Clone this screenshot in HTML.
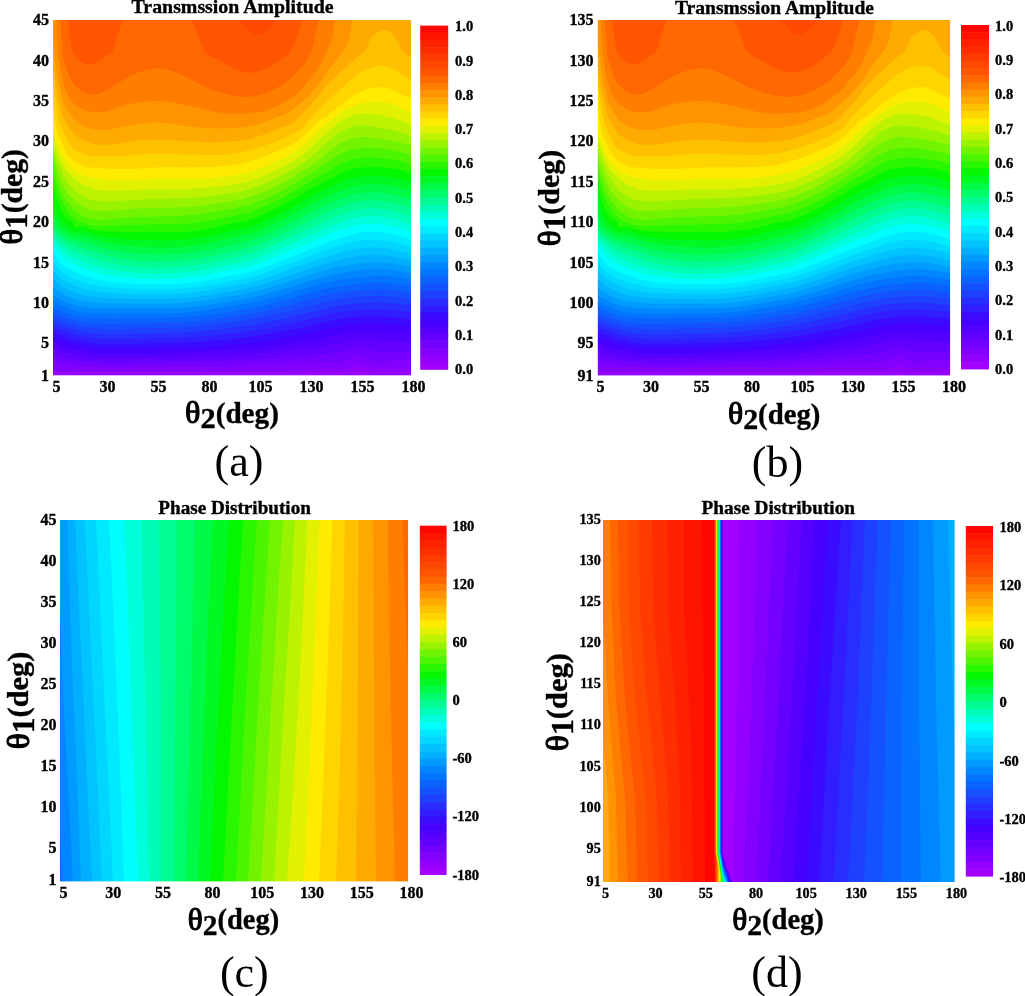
<!DOCTYPE html>
<html><head><meta charset="utf-8"><title>Transmission amplitude and phase distribution</title>
<style>
html,body{margin:0;padding:0;background:#fff;}
svg{display:block;}
text{font-family:"Liberation Serif","Times New Roman",Times,serif;fill:#000;}
text.b{stroke:#000;stroke-width:0.35px;}
</style></head><body>
<svg width="1025" height="996" viewBox="0 0 1025 996">
<rect width="1025" height="996" fill="#fff"/>
<defs><g id="fa"><rect x="51" y="18" width="362" height="359.3" fill="#a200ff"/>
<path fill="#9300ff" d="M51 18L413 18L413 377.3L364.7 377.3L364.7 375.3L362.4 373.4L360.4 372.3L358.4 372.2L356.4 373.3L354.9 375.3L354.8 377.3L51 377.3Z"/>
<path fill="#8300ff" d="M51 18L413 18L413 369L400.9 369L370.5 369.7L368.5 369.2L362.4 365.9L360.4 365.1L358.4 364.7L356.4 365L354.4 365.9L350.3 368.5L348.3 369.3L346.3 369.7L342.2 369.9L326 369.7L243.1 371.1L123.8 371.8L101.6 371.7L61.1 371.1L51 370.3Z"/>
<path fill="#7400ff" d="M51 18L413 18L413 360.3L400.9 360.2L378.6 361.4L372.6 361.3L368.5 360.4L361.7 357L358.4 356.1L356.4 356.3L354.4 356.9L350.3 359.1L346.3 360.7L342.2 361.4L338.2 361.7L320 362.3L247.2 365.5L202.7 366.5L144 367.1L107.6 367.2L91.4 366.7L65.2 365L59.1 364.3L53 363.1L51 363.1Z"/>
<path fill="#6400ff" d="M413 18L413 351.5L400.9 351.2L376.6 351.6L370.5 350.8L362.4 348.8L358.4 348.4L354.4 348.8L344.2 351.7L336.2 353.1L257.3 359.5L202.7 361.6L144 362.6L109.6 362.7L91.4 362L80.9 361.1L69.2 359.6L61.1 358.1L53 355.9L51 355.9L51 18Z"/>
<path fill="#5500ff" d="M413 18L413 342.6L400.9 342L380.6 341.6L364.5 340.2L356.4 340.2L350.3 340.9L330.9 344.8L315.9 347.2L255.3 354L202.7 356.8L146.1 358L109.6 358.2L99.5 358L91.4 357.4L81.3 356.1L71.2 354.3L63.1 352.3L53 349L51 349L51 18Z"/>
<path fill="#4600ff" d="M413 18L413 334L398.8 333.1L372.6 331.8L364.5 331.6L356.4 331.9L348.3 332.7L340.2 334.1L320 338.8L311.9 340.3L253.2 348.5L200.7 351.9L172.3 352.5L148.1 353.4L117.7 353.8L101.6 353.5L93.5 352.9L83.4 351.5L73.2 349.3L63.1 346.4L53 342.6L51 342.6L51 18Z"/>
<path fill="#3a0bff" d="M413 18L413 326.2L394.8 324.7L376.6 323.8L364.5 323.7L354.4 324.3L346.3 325.2L336.2 326.9L315.9 332L305.8 334.1L265.4 340.9L251.2 343L200.7 346.9L150.1 348.6L117.7 349.1L101.6 348.8L93.5 348.2L83.4 346.5L75.3 344.6L65.2 341.6L53 337L51 337L51 18Z"/>
<path fill="#311dff" d="M413 18L413 319L411 319L394.8 317.2L378.6 316.4L364.5 316.4L352.3 317.3L344.2 318.3L336.2 319.7L303.8 327.4L269.4 334L255.3 336.5L239.1 338.4L204.7 341.5L192.6 342.2L125.8 344.2L109.6 344.2L99.5 343.9L89.4 342.7L79.3 340.7L69.2 337.9L53 332L51 332L51 18Z"/>
<path fill="#272eff" d="M413 18L413 312.1L411 312.1L394.8 310.2L380.6 309.4L364.5 309.5L350.3 310.6L340.2 312.1L332.1 313.6L297.7 322L269.4 327.9L255.3 330.5L241.1 332.5L210.8 335.7L188.5 337.3L123.8 339.3L109.6 339.3L99.5 338.9L89.4 337.8L79.3 335.9L69.2 333L53 327.2L51 327.2L51 18Z"/>
<path fill="#1e40ff" d="M413 18L413 305.5L411 305.5L392.8 303.2L380.6 302.6L366.5 302.8L350.3 304L340.2 305.5L330.1 307.4L291.7 316.9L265.4 322.6L253.2 325L241.1 326.8L210.8 330.4L198.6 331.6L186.5 332.3L121.8 334.2L107.6 334.2L97.5 333.8L87.4 332.6L77.3 330.6L67.2 327.6L53 322.5L51 322.4L51 18Z"/>
<path fill="#1551ff" d="M413 18L413 299L411 299L392.8 296.6L380.6 295.9L364.5 296.3L348.3 297.8L338.2 299.3L326 301.8L289.6 311.1L253.2 319.2L243.1 320.8L210.8 325.1L196.6 326.6L184.5 327.4L117.7 329.1L105.6 329L95.5 328.6L85.4 327.5L77.3 325.9L67.2 323L53 317.6L51 317.6L51 18Z"/>
<path fill="#0b63ff" d="M413 18L413 292.6L411 292.6L392.8 290L380.6 289.3L364.5 289.9L348.3 291.4L336.2 293.3L324 295.8L289.6 305L259.3 312.3L251.2 313.9L208.7 320.1L194.6 321.6L182.5 322.5L113.7 323.9L101.6 323.8L91.4 323.3L83.4 322.4L75.3 320.7L65.2 317.5L53 312.7L51 312.7L51 18Z"/>
<path fill="#0274ff" d="M413 18L413 286.2L411 286.2L394.8 283.6L382.7 282.7L374.6 282.8L366.5 283.2L348.3 285L336.2 286.9L322 290L311.9 292.6L289.6 299L251.2 308.5L208.7 314.9L194.6 316.6L182.5 317.6L170.3 318L150.1 318L113.7 318.7L89.4 318.2L81.3 317.2L75.3 315.9L67.2 313.2L53 307.5L51 307.5L51 18Z"/>
<path fill="#0087ff" d="M413 18L413 279.8L411 279.8L394.8 277L386.7 276.3L380.6 276L366.5 276.5L348.3 278.4L334.1 280.9L320 284.2L309.9 287L287.6 293.7L251.2 303.1L208.7 309.9L194.6 311.6L182.5 312.7L168.3 313.2L150.1 313.1L113.7 313.6L95.5 313.3L87.4 312.9L81.3 312.1L73.2 310.1L59.1 304.8L53 301.6L51 301.6L51 18Z"/>
<path fill="#009bff" d="M413 18L413 273.3L411 273.3L392.8 270.2L380.6 269.2L366.5 269.6L352.3 271.1L338.2 273.6L322 277.5L309.9 280.9L281.5 289.7L259.3 295.8L251.2 297.8L243.1 299.4L206.7 305.2L192.6 307L180.4 308L166.3 308.4L115.7 308.6L97.5 308.2L87.4 307.5L79.3 306.2L71.2 303.8L61.1 299.7L57.1 297.6L53 294.8L51 294.8L51 18Z"/>
<path fill="#00afff" d="M413 18L413 266.7L411 266.7L392.8 263.4L380.6 262.2L368.5 262.3L354.4 263.8L340.2 266.5L324 270.6L309.9 274.8L275.1 286L261.3 290L251.2 292.6L241.1 294.6L206.7 300.3L192.6 302.1L178.4 303.3L162.2 303.7L119.8 303.6L101.6 303.1L89.4 302.2L79.3 300.3L71.2 297.8L65.2 295.3L61.1 293.2L57.1 290.6L53 287.3L51 287.3L51 18Z"/>
<path fill="#00c3ff" d="M413 18L413 260.2L411 260.2L390.8 256.2L380.6 255L374.6 254.8L368.5 255L356.4 256.3L342.2 259.2L324 264.2L307.8 269.3L267.4 282.9L251.2 287.5L241.1 289.5L206.7 295.5L190.5 297.5L176.4 298.6L156.2 299.1L121.8 298.6L103.6 297.9L89.4 296.4L79.3 294.2L73.2 292.1L69.2 290.4L65.2 288.4L61 286L57.1 283L53 279.3L51 279.3L51 18Z"/>
<path fill="#00d6ff" d="M413 18L413 253.5L411 253.5L390.8 248.9L380.6 247.6L370.5 247.3L364.5 247.7L358.4 248.5L344.2 251.5L328.1 256.3L305.8 263.8L266.4 277.8L253.2 281.9L243.1 284L206.7 290.6L190.5 292.7L174.4 293.9L152.1 294.3L125.8 293.7L105.6 292.6L91.4 290.7L85.4 289.4L79.3 287.6L74.8 286L69.2 283.5L65.2 281.2L60.2 277.8L57.1 275.2L53 271L51 271L51 18Z"/>
<path fill="#00eaff" d="M413 18L413 246.7L411 246.7L392.8 241.8L382.7 240.1L376.6 239.6L370.5 239.5L364.5 239.9L358.4 240.8L346.3 243.6L332.1 248.1L303.8 258.2L262.3 273.8L251.2 277.2L216.8 283.9L204.7 285.9L186.5 288.1L170.3 289.2L150.1 289.5L125.8 288.6L107.6 287.2L99.5 286.1L93.5 285L87.4 283.4L81.3 281.5L75.3 279.1L69.2 276.2L63.1 272.6L59.1 269.4L55.5 265.7L53 262.2L51 262.2L51 18Z"/>
<path fill="#00feff" d="M413 18L413 239.7L411 239.7L400.9 236.2L394.8 234.6L382.7 232.3L376.6 231.7L370.5 231.6L364.5 232L358.4 232.9L350.3 234.9L334.1 240.1L261.3 268.5L251.2 271.9L245.1 273.2L231 275.6L216.8 278.7L202.7 281.1L182.5 283.4L166.3 284.3L148.1 284.5L121.8 283L111.7 281.9L103.6 280.7L97.5 279.6L91.4 278L85.4 276L77.3 272.8L69.2 269.1L65.2 266.8L61.1 263.8L59 261.6L56 257.5L53 251.7L51 251.6L51 18Z"/>
<path fill="#00fedc" d="M413 18L413 232L411 232L402.9 229.1L394.8 226.8L382.7 224.5L376.6 223.9L370.5 223.8L364.5 224.2L358.4 225.1L350.3 227.1L334.1 232.6L261.3 262.5L253.2 265.6L249.2 266.8L231 270.1L214.8 273.7L202 275.8L182.5 278.1L164.3 279.2L154.1 279.4L146.1 279.2L123.8 277.5L107.6 275.3L99.5 273.6L93.5 271.9L85.4 269.1L75.3 265L67.2 261L63.1 257.9L61.1 255.7L55.5 247.4L53.8 245.4L53 244.6L51 244.6L51 18Z"/>
<path fill="#00fdb7" d="M413 18L413 223.9L411 223.9L400.9 220.6L392.8 218.5L386.7 217.3L380.6 216.5L374.6 216.1L368.5 216.2L362.4 216.8L356.4 217.8L346.3 220.6L332.1 225.7L273.2 251.4L257.3 257.9L249.2 260.6L243.1 262.1L229 264.8L214.8 267.9L204.7 269.8L186.5 272.1L168.3 273.5L150.1 273.8L133.9 272.7L115.7 270.4L107.6 268.9L99.5 266.9L91.4 264.4L83.4 261.5L75.3 258.3L71.2 256.4L67.2 253.8L65.2 252.1L56.8 243.3L53 239.7L51 239.6L51 18Z"/>
<path fill="#00fc92" d="M413 18L413 215.7L411 215.7L400.9 212.7L392.8 210.6L386.7 209.5L380.6 208.7L374.6 208.3L368.5 208.5L362.4 209L356.4 210.1L344.2 213.4L332.1 218L322 222.4L295 235.2L277 243.3L261.3 249.9L249.2 254.2L239.1 256.8L204.7 263.8L188.5 266L170.3 267.5L152.1 267.9L138 267L119.8 264.8L111.7 263.3L103.6 261.3L87.4 256.2L77.3 252.6L73.2 250.9L69.2 248.7L65.2 245.8L57.1 238.9L53 234.9L51 234.9L51 18Z"/>
<path fill="#00fb6d" d="M413 18L413 207.5L411 207.5L392.8 202.6L386.7 201.5L380.6 200.8L374.6 200.4L368.5 200.6L360.4 201.5L354.4 202.7L342.2 206.3L330.1 210.9L320 215.5L293.7 228.7L275.7 237.2L261.5 243.3L251.2 247L239.1 250.3L206.7 257.2L190.5 259.6L174.4 261L156.2 261.6L142 261L131.9 260L121.8 258.6L113.7 257.1L105.6 255.2L77.3 246.5L71.2 244.2L67.2 242L61.1 237.8L57.1 234.3L53 229.8L51 229.8L51 18Z"/>
<path fill="#00fa48" d="M413 18L413 199.2L411 199.2L392.8 194.4L386.7 193.4L380.6 192.7L374.6 192.4L368.5 192.6L360.4 193.5L354.4 194.6L348.3 196.3L342.2 198.3L326 204.8L317.9 208.6L295.7 220.4L282.4 227.1L265.4 235L255.3 239L243.1 242.5L210.8 249.9L194.6 252.5L178.4 254.1L158.2 254.7L150.1 254.6L142 254.1L131.9 253.2L121.8 252L113.7 250.6L105.6 248.8L97.5 246.5L85.4 242.6L75.3 240.4L69.2 238.3L65.2 236.1L61.1 233.3L56.8 229.1L55 226.7L53 223.3L51 223.2L51 18Z"/>
<path fill="#00f923" d="M413 18L413 190.9L411 190.9L398.8 187.4L392.8 186L386.7 185L380.6 184.5L374.6 184.3L366.5 184.6L358.4 185.5L352.3 186.8L344.2 189.4L322 198.6L313.9 202.7L296 212.9L285.6 218.3L267.4 227.1L255.3 232.2L245.1 235.1L209 243.3L194.6 245.7L180.4 247L170.3 247.4L160.2 247.4L138 246.7L123.8 245.5L113.7 244.1L103.6 242.2L97.5 240.6L87.4 237.1L83.4 236.1L75.3 235.5L73.2 235.2L68.3 233.2L63.1 230L61.1 228.4L59.1 226L57.1 222.8L55 218.6L53 212.9L51 212.8L51 18Z"/>
<path fill="#03f800" d="M413 18L413 182.4L411 182.4L398.8 178.5L394.8 177.5L390.8 176.9L380.6 176L374.6 175.8L368.5 176.1L356.4 177.2L350.3 178.4L344.2 180.5L332.1 186.5L320 191.5L313.9 194.7L297 204.8L287.6 210L265.4 220.9L255.3 225.3L247.2 227.7L231 230.8L212.8 235.4L200.7 237.6L188.5 239.1L180.4 239.7L170.3 240L133.9 239.4L121.8 238.7L103.6 236.6L97.5 235.3L83.4 230.5L81.3 230.4L77.3 231.2L75.3 231.2L73.2 230.7L70.7 229.1L69.2 226.7L67.2 225.5L64.9 225.1L63.1 223.3L59.1 217L57.1 212.3L55.3 206.8L53 197.3L51 197.2L51 18Z"/>
<path fill="#28f700" d="M413 18L413 173.4L411 173.4L400.9 170.1L394.8 168.7L378.6 166.9L372.6 166.8L368.5 167L356.4 168.2L350.3 169.4L346.3 170.5L342.1 172.3L328.1 180.2L320 183.7L314.6 186.5L293.7 199.1L283.6 204.8L265.4 213.6L255.3 218L249.2 220.1L245.1 221.1L229 223.9L216.8 227L208.7 228.7L194.6 230.9L182.5 232L170.3 232.3L150.1 232L125.8 232.2L101.6 231.2L89.4 228.9L83.4 226.4L81.3 226.2L77.3 226.9L75.3 227.1L73.2 225.6L73 223L71.6 221L67.2 218.7L65.1 216.9L63.7 214.9L59.6 206.8L58 202.7L55.4 194.6L53 182.6L51 182.5L51 18Z"/>
<path fill="#4df600" d="M413 18L413 164.2L411 164.2L400.9 161.3L394.8 160L386.7 158.7L378.6 157.9L370.5 157.6L362.4 157.9L356.4 158.6L350.3 160L344.2 162.1L338.2 165L324 173.7L311.9 180.5L293.7 191.6L283.6 197.4L271.4 203.5L257.3 209.7L249.2 212.6L243.1 214.1L208.7 220.9L194.6 223L186.5 223.8L176.4 224.3L146.1 224.6L105.6 225.9L99.5 225.9L89.4 225.3L87.4 224.6L83.4 222.5L79.3 221.3L77.3 220.4L70.7 214.9L69.2 213.3L63.1 203.9L58.9 194.6L53.8 176.3L53 170.8L51 170.7L51 18Z"/>
<path fill="#72f400" d="M413 18L413 154.9L411 154.9L400.9 152.2L392.8 150.5L384.7 149.1L376.6 148.1L368.5 147.7L362.4 147.7L356.4 148.4L352.3 149.2L346.3 151.2L338.2 155.2L332.1 159.1L316.1 170.2L293.7 184.2L278.7 192.6L263.3 199.7L251.2 204.3L241.1 207.1L212.8 212.3L196.6 214.6L178.4 216L140 217L123.8 218L101.6 219.9L95.5 219.7L89.4 218.4L85.4 217L79.3 213.8L75.3 211L72.9 208.8L67.2 201.8L63.1 194.9L61.1 190.6L59.1 185.3L55.4 174.3L54.9 170.2L53 163.3L51 163.2L51 18Z"/>
<path fill="#97f300" d="M413 18L413 145.3L411 145.3L398.8 142.2L388.7 140L372.6 137.7L366.5 137.1L360.4 137L356.4 137.4L352.3 138.2L346.3 140.3L342.2 142.3L338.2 144.7L330.1 150.5L313 164.2L305.8 169.1L297.7 174.3L281.5 183.6L267.4 190.5L253.2 196L241.1 199.4L220.9 203.1L198.6 206L182.5 207.2L140 208.6L107.6 211.3L101.6 211.3L95.5 210.7L89.4 209.2L85.4 207.7L79.3 204.2L75.3 201.2L71.2 197.2L67.2 191.9L65.2 188.7L61.1 180.7L58.5 174.3L55.4 164.2L54.1 158.1L53 154.8L51 154.7L51 18Z"/>
<path fill="#bdf200" d="M413 18L413 135.4L411 135.4L392.8 130.3L380.6 127.8L364.5 125.6L358.4 125.6L354.4 126.1L350.3 127.2L346.3 128.9L342.2 131L338.2 133.7L328.1 141.7L309.8 158.1L303.8 162.6L295.7 167.8L283.6 174.8L272.5 180.4L261.3 185.3L251.2 188.8L243.1 191.1L233 193.1L218.9 195.3L204.7 196.8L184.5 198.2L146.1 199.2L109.6 201.4L99.5 201.2L93.5 200.3L89.4 199.2L83.1 196.6L79.3 194.3L74.6 190.5L69.2 184.2L63.1 174.5L58.4 164.2L56.6 158.1L55 154L53 146L51 145.9L51 18Z"/>
<path fill="#e2f100" d="M413 18L413 124.7L411 124.7L390.8 117.4L386.7 116.4L380.6 115.3L370.5 114.1L364.5 113.8L358.4 114.2L352.3 115.6L348.3 117.3L344.2 119.4L340.2 121.9L336.2 124.8L323.3 135.7L307.8 150.7L301.8 155.7L297.7 158.5L287.6 164.4L275.5 170.8L263.3 176.2L253.2 180L243.1 182.8L233 184.8L218.9 186.8L204.7 188L186.5 188.9L152.1 189.2L131.9 190.2L111.7 190.7L103.6 190.5L95.5 189.6L89.4 187.8L85.4 185.9L81.3 183.5L75.3 179L67.2 171.2L65.2 168.6L63.1 165.3L60.5 160.1L57.1 152L54 141.8L53.8 139.8L53.1 137.8L51 137.6L51 18Z"/>
<path fill="#ffeb00" d="M413 18L413 113L411 113L396.8 105.8L392.8 104.1L388.7 102.8L384.7 102L380.6 101.8L366.5 102.3L362.4 102.9L356.4 104.5L346.3 109.3L334.4 117.5L322 127.6L315.9 133.1L307.8 141.3L303.8 145L299.7 148.2L294.2 152L287.6 155.7L273.5 162.7L260.2 168.2L249.2 172.2L240.4 174.3L226.9 176.7L200.7 178.9L156.2 178.8L135.9 179.9L125.8 180.1L107.6 179.6L91.4 177.6L85.4 175.9L77.3 172.4L73.2 169.7L69.2 166.2L64.8 160.1L59.5 149.9L58.1 145.9L56.2 141.8L55.9 139.8L53.9 135.7L53 129.3L51 129.2L51 18Z"/>
<path fill="#ffd500" d="M413 18L413 99L411 99L392.8 89.9L388.7 88.3L384.7 87.3L380.6 87.1L376.6 87.5L370.5 88.5L364.5 90.2L358.4 93L350.3 97.9L340.2 105.3L334.1 110.5L328.1 114.9L321 119.5L317.9 122.1L303.8 136L295.7 141.9L289.6 145.5L283.6 148.4L267.4 155.2L259.3 158.2L245.1 162.5L237.1 164.4L229 165.6L214.8 166.9L190.5 167.2L164.3 167.1L131.9 169L119.8 169L98.5 168.2L93.5 167.8L87.4 166.9L81.3 165.1L77.3 163.2L73.2 160.5L69.2 156.5L67.2 153.7L63.1 146.7L62 143.9L60.8 139.8L58.1 135.7L57.8 133.7L57.9 131.7L55.7 125.6L54.7 121.5L53 106.2L51 106L51 18Z"/>
<path fill="#ffc000" d="M413 18L413 80L411 80L402.9 74.7L392.8 68.8L388.7 67.1L384.7 66L380.6 65.8L376.6 66.3L370.5 68L364.5 70.3L358.4 73.7L354.4 76.5L326 102.1L321 107.3L313.9 114.2L302.4 127.6L299.7 130.2L293.7 133.8L283.6 138.4L273.5 142.6L257.3 148.1L245.1 151.2L237.1 153L229 154.2L220.9 154.9L202.7 155L174.4 154L152.1 153.7L117.7 156.3L103.6 156.3L91.4 155.7L85.4 154.5L79.3 152.6L75.3 150.4L72.4 147.9L69.2 143.9L67.2 140.4L60.4 125.6L59.1 122.3L58 117.5L53 83.5L51 83L51 18Z"/>
<path fill="#ffaa00" d="M413 18L413 58L411 57.9L409 56.6L404.9 53L402.9 50.8L395.6 38.3L392.8 34.5L390.6 32.2L388.7 31L386.7 30.3L384.7 30.3L382.7 30.6L378.6 31.9L374.6 34.3L372.6 36.1L370.5 38.4L368.5 42.4L366.5 48.4L364.5 51.5L352.3 61.3L334.1 77.9L325.1 87L319.2 95.1L309.9 105.9L297.7 118.4L293.7 121.9L291.2 123.6L287.6 125.3L275.5 129.8L260.6 135.7L249.2 139.2L239.1 140.8L222.9 142.1L210.8 142.4L192.6 141.6L164.3 139.7L154.1 139.5L146.1 139.9L138 140.6L115.7 143.9L109.6 144.5L103.6 144.7L97.5 144.5L93.5 143.9L91.4 143.2L79.3 137.8L75.3 134.9L73.2 133.1L70.4 129.6L64.5 119.5L63.1 116.7L61.1 110.6L57.4 95.1L56.9 91.1L55.6 85L55.3 80.9L53.7 72.8L53 65.6L51 65.3L51 18Z"/>
<path fill="#ff9400" d="M352.6 18L352.6 20L351.5 24.1L350.1 34.2L349.2 38.3L347.1 44.4L345 48.4L340.7 54.5L330.1 67.9L320 83L314.7 89L309.9 95.1L307.8 97.1L293.7 109L287.6 113.1L283.6 115L275.5 117.8L265.4 122.1L259.3 124L245.1 126.9L235 128L220.9 128.5L204.7 128L198.6 127.4L172.3 123.7L164.3 122.9L156.2 122.5L150.1 122.6L142 123.5L111.7 129.1L105.6 129.9L101.6 130L93.5 129.2L87.4 127.8L83.4 126.1L79.3 123.7L77.3 122.2L73.2 118.1L67.2 110L65.2 106.4L63.9 103.3L61.1 94.5L57 74.8L53.9 50.5L53 40.2L51 40.1L51 18Z"/>
<path fill="#ff7e00" d="M335 18L335 20L333.1 34.2L332.1 38.3L330.7 42.4L326.5 52.5L320.7 64.7L317.9 69.1L313.9 74.6L301.7 89L297.3 93.1L289.6 99L283.6 103L279.4 105.3L265.4 110.9L261.3 111.8L253.2 112.8L241.1 113.4L231 113.4L220.9 112.8L212.8 111.5L198.6 107.7L172.3 102.4L164.3 101.3L156.2 101L148.1 101.5L131.9 103.6L127.8 104.6L111.7 110L103.6 111.9L99.5 112.3L95.5 112.2L87.4 111.1L83.4 109.7L77.3 106.1L73.2 102.8L71.2 100.6L69.2 97.9L66.8 93.1L65.2 88.8L63.5 83L61 72.8L59.1 62.7L58 54.5L57.2 42.4L56.2 32.2L56.4 18Z"/>
<path fill="#ff6800" d="M319 18L319 20L312.1 48.4L310.9 52.5L308.2 58.6L303.9 64.7L295.7 73.6L291.7 77.5L285.6 82.6L281.5 85.4L271.4 90.9L267.4 92.7L261.3 94.7L253.2 96.4L245.1 97L239.1 96.6L230.7 95.1L220.9 92.8L212.8 90.1L205 87L186.5 77.2L174.4 71.7L166.3 69.2L160.2 68.5L154.1 68.8L148.1 69.7L142 71.3L135.9 73.4L131.9 75.1L127.8 77.2L112 87L101.2 93.1L97.5 94.4L95.5 94.7L91.4 94.7L89.4 94.4L85.4 93.1L81.3 91L77.3 87.8L73 83L71.2 80.2L69.6 76.9L67.2 70.5L63.3 58.6L62.5 54.5L62.3 44.4L61 34.2L60.6 18Z"/>
<path fill="#ff5500" d="M123.8 18L123.8 20L119.9 28.1L117.7 34.5L113.8 48.4L111.7 52.4L109.6 54.2L102.7 58.6L97.5 62.2L93.5 63.6L89.4 64.1L85.4 63.9L83.4 63.3L81.3 62.2L79.3 60.7L75.3 56.8L72.8 52.5L71.2 46.7L69.6 36.3L68.2 24.1L68 18ZM191 18L302 18L302 20L295.2 42.4L292.4 48.4L289.5 52.5L284.8 56.6L273.6 64.7L269.4 67.3L265.4 69.2L259.3 71.2L253.2 72.4L249.2 72.7L245.1 72.3L241.1 71.3L234.4 68.7L230.4 66.7L220.9 61L210.8 56.4L206.7 53.3L204.3 50.5L202.7 47.4L197 32.2L194.2 26.1L191 20Z"/>
<path fill="#ff4800" d="M276 18L276 20L273.2 24.1L269.4 28L263.3 33L261.3 34.1L259.3 34.8L257.3 35L255.3 34.8L253.2 34.1L251.2 33.1L249.2 31.5L242.3 24.1L239 20L239 18Z"/></g></defs>
<clipPath id="ca"><rect x="53" y="20" width="358" height="356"/></clipPath>
<g clip-path="url(#ca)">
<use href="#fa"/>
</g>
<rect x="52" y="375.3" width="360" height="1.7" fill="#fff"/>
<clipPath id="cb"><rect x="597" y="20" width="354" height="356"/></clipPath>
<g clip-path="url(#cb)">
<use href="#fa" transform="translate(545.644 -0.006) scale(0.98408 1.00028)"/>
</g>
<rect x="596" y="19" width="1.8" height="358" fill="#fff"/>
<rect x="950.1" y="19" width="1.9" height="358" fill="#fff"/>
<rect x="596" y="375.4" width="356" height="1.6" fill="#fff"/>
<clipPath id="cc"><rect x="60" y="520" width="349" height="362"/></clipPath>
<g clip-path="url(#cc)">
<rect x="58" y="518" width="352.1" height="365.4" fill="#0274ff"/>
<path fill="#0087ff" d="M410.1 518L410.1 883.4L63 883.4L60 826.9L58 826.7L58 518Z"/>
<path fill="#009bff" d="M410.1 883.4L73 883.4L70.1 823.3L63.3 697.6L60 610.3L58 610L58 518L410.1 518Z"/>
<path fill="#00afff" d="M410.1 883.4L81 883.4L77.1 778.1L73.3 697.6L71.8 660.4L69.5 592.3L67.4 518L410.1 518Z"/>
<path fill="#00c3ff" d="M410.1 883.4L92 883.4L87.1 784.3L83.3 697.6L78.1 591.6L75 518L410.1 518Z"/>
<path fill="#00d6ff" d="M410.1 883.4L102 883.4L97.2 778.1L84.6 518L410.1 518Z"/>
<path fill="#00eaff" d="M410.1 883.4L113 883.4L110.1 815.3L104.3 697.6L96 518L410.1 518Z"/>
<path fill="#00feff" d="M410.1 883.4L124 883.4L121.1 796.7L118.3 722.4L115.1 648.1L109 518L410.1 518Z"/>
<path fill="#00fedc" d="M410.1 883.4L138 883.4L136.5 838.5L131.1 703.8L128.1 617.1L124 518L410.1 518Z"/>
<path fill="#00fdb7" d="M410.1 883.4L149 883.4L146.8 759.5L143.4 610.9L141 518L410.1 518Z"/>
<path fill="#00fc92" d="M410.1 883.4L161 883.4L161 697.6L159 518L410.1 518Z"/>
<path fill="#00fb6d" d="M410.1 518L410.1 883.4L174 883.4L177 518Z"/>
<path fill="#00fa48" d="M410.1 518L410.1 883.4L186 883.4L188 796.7L191 697.6L192.9 604.7L195 518Z"/>
<path fill="#00f923" d="M410.1 518L410.1 883.4L198 883.4L201 796.7L207.4 635.7L209.9 579.9L213 518Z"/>
<path fill="#03f800" d="M410.1 518L410.1 883.4L210 883.4L213 815.3L219 693L229 518Z"/>
<path fill="#28f700" d="M410.1 518L410.1 883.4L223 883.4L227.7 790.5L243 518Z"/>
<path fill="#4df600" d="M410.1 518L410.1 883.4L236 883.4L240.1 802.9L245.1 711.8L250 629.5L257 518Z"/>
<path fill="#72f400" d="M410.1 518L410.1 883.4L248 883.4L258.7 697.6L270 518Z"/>
<path fill="#97f300" d="M410.1 518L410.1 883.4L261 883.4L271.6 697.6L283 518Z"/>
<path fill="#bdf200" d="M410.1 518L410.1 883.4L274 883.4L283.3 716.1L291.1 592.3L295 518Z"/>
<path fill="#e2f100" d="M410.1 518L410.1 883.4L287 883.4L287.4 875.4L293.8 778.1L296.8 728.6L303.1 610.9L307.4 518Z"/>
<path fill="#ffeb00" d="M410.1 518L410.1 883.4L304 883.4L314.3 654.3L319.6 518Z"/>
<path fill="#ffd500" d="M410.1 518L410.1 883.4L319 883.4L323.4 778.1L327.8 660.4L330.6 579.9L332.4 518Z"/>
<path fill="#ffc000" d="M410.1 518L410.1 883.4L336 883.4L339 790.5L341.4 703.8L343.3 617.1L345 518Z"/>
<path fill="#ffaa00" d="M410.1 518L410.1 883.4L356 883.4L357.8 703.8L358.4 518Z"/>
<path fill="#ff9400" d="M410.1 883.4L376 883.4L374.2 703.8L373 518L410.1 518Z"/>
<path fill="#ff7e00" d="M410.1 883.4L395 883.4L390.5 697.6L387.6 518L410.1 518Z"/>
<path fill="#ff6800" d="M410.1 671.8L408.1 671.6L405 598.5L402.4 518L410.1 518Z"/>
</g>
<rect x="408.1" y="519" width="1.9" height="364" fill="#fff"/>
<rect x="59" y="881.4" width="351" height="1.6" fill="#fff"/>
<clipPath id="cd"><rect x="603" y="520" width="352" height="362"/></clipPath>
<g clip-path="url(#cd)">
<rect x="601" y="518" width="355.6" height="366" fill="#a200ff"/>
<path fill="#9300ff" d="M601 518L722.7 518L722.7 852.7L722.9 854.1L730.5 876.1L731.3 877.9L731.5 879.1L732.4 881L732.5 884L601 884ZM956.6 518L956.6 884L733.5 884L735.9 744.5L737 700L739 518Z"/>
<path fill="#8300ff" d="M601 518L722.5 518L722.5 852.7L722.9 855.2L732.1 882L732.1 884L601 884ZM956.6 518L956.6 884L743 884L749.2 753.6L752 700L757 518Z"/>
<path fill="#7400ff" d="M601 518L722.3 518L722.3 852.7L722.9 856.4L731.7 882L731.7 884L601 884ZM956.6 518L956.6 884L756 884L765 700L773 518Z"/>
<path fill="#6400ff" d="M601 518L722.1 518L722.1 852.7L722.9 857.5L731.3 882L731.3 884L601 884ZM956.6 518L956.6 884L768 884L778.5 700L788 518Z"/>
<path fill="#5500ff" d="M601 518L721.9 518L721.9 852.7L722.9 858.6L730.9 882L730.9 884L601 884ZM956.6 518L956.6 884L780.7 884L792 700L802 518Z"/>
<path fill="#4600ff" d="M601 518L721.7 518L721.7 852.7L722.9 859.7L730.5 882L730.5 884L601 884ZM956.6 518L956.6 884L793 884L805 700L815 518Z"/>
<path fill="#3a0bff" d="M601 518L721.6 518L721.6 852.7L722.9 860.9L730.1 882L730.2 884L601 884ZM956.6 518L956.6 884L806.6 884L817 700L828 518Z"/>
<path fill="#311dff" d="M601 518L721.4 518L721.4 852.7L722.9 862L729.8 882L729.8 884L601 884ZM956.6 518L956.6 884L819.3 884L829.5 700L832.9 649.4L841 518Z"/>
<path fill="#272eff" d="M601 518L721.2 518L721.2 852.7L722.9 863.1L729.4 882L729.4 884L601 884ZM956.6 518L956.6 884L833.4 884L844.7 677.7L850.6 559.5L852.4 518Z"/>
<path fill="#1e40ff" d="M601 518L721 518L721 852.7L722.9 864.3L729 882L729 884L601 884ZM956.6 518L956.6 884L848 884L857.5 700L865 518Z"/>
<path fill="#1551ff" d="M601 518L720.8 518L720.8 852.7L722.9 865.4L728.6 882L728.6 884L601 884ZM956.6 518L956.6 884L864 884L870.8 719.2L877.6 518Z"/>
<path fill="#0b63ff" d="M601 518L720.6 518L720.6 852.7L722.9 866.5L728.2 882L728.2 884L601 884ZM956.6 518L956.6 884L882 884L886 700L891 518Z"/>
<path fill="#0274ff" d="M601 518L720.4 518L720.4 852.7L722.9 867.6L727.8 882L727.8 884L601 884ZM956.6 518L956.6 884L901 884L902 700L904 518Z"/>
<path fill="#0087ff" d="M601 518L720.3 518L720.3 852.7L722.9 868.8L727.4 882L727.4 884L601 884ZM956.6 884L921 884L919 700L918.6 518L956.6 518Z"/>
<path fill="#009bff" d="M601 518L720.1 518L720.1 852.7L722.9 869.9L727.1 882L727.1 884L601 884ZM956.6 884L941 884L936 700L933 518L956.6 518Z"/>
<path fill="#00afff" d="M601 518L719.9 518L719.9 852.7L722.9 871L726.7 882L726.7 884L601 884ZM956.6 740.4L955.1 740.4L954.6 739.9L952.9 700L948 518L956.6 518Z"/>
<path fill="#00c3ff" d="M601 518L719.7 518L719.7 852.7L722.9 872.2L726.3 882L726.3 884L601 884Z"/>
<path fill="#00d6ff" d="M601 518L719.5 518L719.5 852.7L722.9 873.3L725.9 882L725.9 884L601 884Z"/>
<path fill="#00eaff" d="M601 518L719.3 518L719.3 852.7L722.9 874.4L725.5 882L725.5 884L601 884Z"/>
<path fill="#00feff" d="M601 518L719.2 518L719.2 852.7L722.9 875.5L725.1 882L725.1 884L601 884Z"/>
<path fill="#00fedc" d="M601 518L719 518L719 852.7L722.4 873.9L722.9 876.7L724.7 882L724.7 884L601 884Z"/>
<path fill="#00fdb7" d="M601 518L718.8 518L718.8 852.7L722.4 875L722.9 877.8L724.3 882L724.3 884L601 884Z"/>
<path fill="#00fc92" d="M601 518L718.6 518L718.6 852.7L722.4 876.2L722.9 878.9L724 882L724 884L601 884Z"/>
<path fill="#00fb6d" d="M601 518L718.4 518L718.4 852.7L722.4 877.3L722.9 880.1L723.6 882L723.6 884L601 884Z"/>
<path fill="#00fa48" d="M601 518L718.2 518L718.2 852.7L722.4 878.4L723.2 882L723.2 884L601 884Z"/>
<path fill="#00f923" d="M601 518L718 518L718 852.7L722.8 882L722.8 884L601 884Z"/>
<path fill="#03f800" d="M601 518L717.9 518L717.9 852.7L722.1 878.9L722.4 881L722.4 884L601 884Z"/>
<path fill="#28f700" d="M601 518L717.7 518L717.7 852.7L721.9 878.9L722 884L601 884Z"/>
<path fill="#4df600" d="M601 518L717.5 518L717.5 852.7L721.4 876.9L721.6 884L601 884Z"/>
<path fill="#72f400" d="M601 518L717.3 518L717.3 852.7L721 875.9L721.2 884L601 884Z"/>
<path fill="#97f300" d="M601 518L717.1 518L717.1 852.7L720.8 875.9L720.8 884L601 884Z"/>
<path fill="#bdf200" d="M601 518L716.9 518L716.9 852.7L720.3 873.9L720.4 884L601 884Z"/>
<path fill="#e2f100" d="M601 518L716.7 518L716.7 852.7L719.9 872.3L720 884L601 884Z"/>
<path fill="#ffeb00" d="M601 518L716.6 518L716.6 852.7L719.5 870.9L719.6 884L601 884Z"/>
<path fill="#ffd500" d="M601 518L716.4 518L716.4 852.7L719.2 870.9L719.2 884L601 884Z"/>
<path fill="#ffc000" d="M601 518L716.2 518L716.2 852.7L718.7 868.8L718.8 884L601 884Z"/>
<path fill="#ffaa00" d="M601 518L716 518L716 852.7L718.4 867.8L718.4 884L601 884Z"/>
<path fill="#ff9400" d="M718 884L610 884L608.5 800.1L603 736.6L602.5 736.4L601 736.4L601 518L715.8 518L715.8 852.7L717.9 865.8Z"/>
<path fill="#ff7e00" d="M717.6 884L618 884L616 800.1L608 700L603 610.4L602.5 610L601 610L601 518L715.6 518L715.6 852.7L717.6 865.8Z"/>
<path fill="#ff6800" d="M717.1 884L627.6 884L625 800.1L616 700L611.5 610L610 518L715.4 518L715.4 852.7L717.1 863.8Z"/>
<path fill="#ff5500" d="M716.7 884L637.7 884L635 800.1L625 700L619.6 610L617.6 518L715.3 518L715.3 852.7L716.7 862.8Z"/>
<path fill="#ff4800" d="M716.3 884L648 884L646 800.1L640.8 750.5L635 700L629 610L627.6 518L715.1 518L715.1 852.7L716.3 860.7Z"/>
<path fill="#ff3b00" d="M715.9 884L658.7 884L657 800.1L652.3 748.5L647 700L640 610L638.7 518L714.9 518L714.9 852.7L715.8 858.7L715.9 860.7Z"/>
<path fill="#ff2e00" d="M715.5 884L670 884L668 800.1L667.4 790L664.3 746.5L662.3 723.2L660 700L656.6 653.5L653 610L652 518L714.7 518L714.7 852.7L715.5 859.7Z"/>
<path fill="#ff2100" d="M715.1 884L681 884L680 800.1L678.5 765.7L675 700L668 610L667 518L714.5 518L714.5 852.7L715.1 857.7Z"/>
<path fill="#ff1400" d="M714.7 884L693 884L692 800.1L690 727.3L689 700L687.5 666.6L685.8 637.3L684 610L684 518L714.3 518L714.3 852.7L714.7 855.7Z"/>
<path fill="#ff0700" d="M714.3 884L705 884L705 849.6L704 700L702.5 610L702 518L714 518L714 852.7L714.3 854.7Z"/>
</g>
<rect x="954.6" y="519" width="1.4" height="364" fill="#fff"/>
<rect x="420.2" y="25.60" width="28" height="7.77" fill="#ff0700"/>
<rect x="420.2" y="32.77" width="28" height="7.77" fill="#ff1400"/>
<rect x="420.2" y="39.94" width="28" height="7.77" fill="#ff2100"/>
<rect x="420.2" y="47.11" width="28" height="7.77" fill="#ff2e00"/>
<rect x="420.2" y="54.28" width="28" height="7.77" fill="#ff3b00"/>
<rect x="420.2" y="61.45" width="28" height="7.77" fill="#ff4800"/>
<rect x="420.2" y="68.62" width="28" height="7.77" fill="#ff5500"/>
<rect x="420.2" y="75.80" width="28" height="7.77" fill="#ff6800"/>
<rect x="420.2" y="82.97" width="28" height="7.77" fill="#ff7e00"/>
<rect x="420.2" y="90.14" width="28" height="7.77" fill="#ff9400"/>
<rect x="420.2" y="97.31" width="28" height="7.77" fill="#ffaa00"/>
<rect x="420.2" y="104.48" width="28" height="7.77" fill="#ffc000"/>
<rect x="420.2" y="111.65" width="28" height="7.77" fill="#ffd500"/>
<rect x="420.2" y="118.82" width="28" height="7.77" fill="#ffeb00"/>
<rect x="420.2" y="125.99" width="28" height="7.77" fill="#e2f100"/>
<rect x="420.2" y="133.16" width="28" height="7.77" fill="#bdf200"/>
<rect x="420.2" y="140.33" width="28" height="7.77" fill="#97f300"/>
<rect x="420.2" y="147.50" width="28" height="7.77" fill="#72f400"/>
<rect x="420.2" y="154.67" width="28" height="7.77" fill="#4df600"/>
<rect x="420.2" y="161.85" width="28" height="7.77" fill="#28f700"/>
<rect x="420.2" y="169.02" width="28" height="7.77" fill="#03f800"/>
<rect x="420.2" y="176.19" width="28" height="7.77" fill="#00f923"/>
<rect x="420.2" y="183.36" width="28" height="7.77" fill="#00fa48"/>
<rect x="420.2" y="190.53" width="28" height="7.77" fill="#00fb6d"/>
<rect x="420.2" y="197.70" width="28" height="7.77" fill="#00fc92"/>
<rect x="420.2" y="204.87" width="28" height="7.77" fill="#00fdb7"/>
<rect x="420.2" y="212.04" width="28" height="7.77" fill="#00fedc"/>
<rect x="420.2" y="219.21" width="28" height="7.77" fill="#00feff"/>
<rect x="420.2" y="226.38" width="28" height="7.77" fill="#00eaff"/>
<rect x="420.2" y="233.55" width="28" height="7.77" fill="#00d6ff"/>
<rect x="420.2" y="240.72" width="28" height="7.77" fill="#00c3ff"/>
<rect x="420.2" y="247.90" width="28" height="7.77" fill="#00afff"/>
<rect x="420.2" y="255.07" width="28" height="7.77" fill="#009bff"/>
<rect x="420.2" y="262.24" width="28" height="7.77" fill="#0087ff"/>
<rect x="420.2" y="269.41" width="28" height="7.77" fill="#0274ff"/>
<rect x="420.2" y="276.58" width="28" height="7.77" fill="#0b63ff"/>
<rect x="420.2" y="283.75" width="28" height="7.77" fill="#1551ff"/>
<rect x="420.2" y="290.92" width="28" height="7.77" fill="#1e40ff"/>
<rect x="420.2" y="298.09" width="28" height="7.77" fill="#272eff"/>
<rect x="420.2" y="305.26" width="28" height="7.77" fill="#311dff"/>
<rect x="420.2" y="312.43" width="28" height="7.77" fill="#3a0bff"/>
<rect x="420.2" y="319.60" width="28" height="7.77" fill="#4600ff"/>
<rect x="420.2" y="326.78" width="28" height="7.77" fill="#5500ff"/>
<rect x="420.2" y="333.95" width="28" height="7.77" fill="#6400ff"/>
<rect x="420.2" y="341.12" width="28" height="7.77" fill="#7400ff"/>
<rect x="420.2" y="348.29" width="28" height="7.77" fill="#8300ff"/>
<rect x="420.2" y="355.46" width="28" height="7.77" fill="#9300ff"/>
<rect x="420.2" y="362.63" width="28" height="7.17" fill="#a200ff"/>
<text class="b" x="232.6" y="13.3" font-size="19" font-weight="bold" text-anchor="middle" textLength="202" lengthAdjust="spacingAndGlyphs">Transmssion Amplitude</text>
<text class="b" x="49" y="25.4" font-size="16" font-weight="bold" text-anchor="end">45</text>
<text class="b" x="49" y="65.7" font-size="16" font-weight="bold" text-anchor="end">40</text>
<text class="b" x="49" y="106.1" font-size="16" font-weight="bold" text-anchor="end">35</text>
<text class="b" x="49" y="146.4" font-size="16" font-weight="bold" text-anchor="end">30</text>
<text class="b" x="49" y="186.8" font-size="16" font-weight="bold" text-anchor="end">25</text>
<text class="b" x="49" y="227.1" font-size="16" font-weight="bold" text-anchor="end">20</text>
<text class="b" x="49" y="267.5" font-size="16" font-weight="bold" text-anchor="end">15</text>
<text class="b" x="49" y="307.8" font-size="16" font-weight="bold" text-anchor="end">10</text>
<text class="b" x="49" y="348.1" font-size="16" font-weight="bold" text-anchor="end">5</text>
<text class="b" x="49" y="380.9" font-size="16" font-weight="bold" text-anchor="end">1</text>
<text class="b" x="56.5" y="392" font-size="16" font-weight="bold" text-anchor="middle">5</text>
<text class="b" x="107.5" y="392" font-size="16" font-weight="bold" text-anchor="middle">30</text>
<text class="b" x="158.5" y="392" font-size="16" font-weight="bold" text-anchor="middle">55</text>
<text class="b" x="209.5" y="392" font-size="16" font-weight="bold" text-anchor="middle">80</text>
<text class="b" x="260.5" y="392" font-size="16" font-weight="bold" text-anchor="middle">105</text>
<text class="b" x="311.5" y="392" font-size="16" font-weight="bold" text-anchor="middle">130</text>
<text class="b" x="362.5" y="392" font-size="16" font-weight="bold" text-anchor="middle">155</text>
<text class="b" x="413.5" y="392" font-size="16" font-weight="bold" text-anchor="middle">180</text>
<text class="b" x="455.1" y="31.2" font-size="14.5" font-weight="bold" text-anchor="start">1.0</text>
<text class="b" x="455.1" y="65.5" font-size="14.5" font-weight="bold" text-anchor="start">0.9</text>
<text class="b" x="455.1" y="99.8" font-size="14.5" font-weight="bold" text-anchor="start">0.8</text>
<text class="b" x="455.1" y="134.1" font-size="14.5" font-weight="bold" text-anchor="start">0.7</text>
<text class="b" x="455.1" y="168.4" font-size="14.5" font-weight="bold" text-anchor="start">0.6</text>
<text class="b" x="455.1" y="202.7" font-size="14.5" font-weight="bold" text-anchor="start">0.5</text>
<text class="b" x="455.1" y="237" font-size="14.5" font-weight="bold" text-anchor="start">0.4</text>
<text class="b" x="455.1" y="271.3" font-size="14.5" font-weight="bold" text-anchor="start">0.3</text>
<text class="b" x="455.1" y="305.6" font-size="14.5" font-weight="bold" text-anchor="start">0.2</text>
<text class="b" x="455.1" y="339.9" font-size="14.5" font-weight="bold" text-anchor="start">0.1</text>
<text class="b" x="455.1" y="374.2" font-size="14.5" font-weight="bold" text-anchor="start">0.0</text>
<text class="b" x="232" y="422.5" font-size="29" font-weight="bold" text-anchor="middle" textLength="93.8" lengthAdjust="spacingAndGlyphs"><tspan font-size="31.9" font-weight="normal" stroke-width="1.15" dy="0.8">θ</tspan><tspan font-size="30.2" dy="5">2</tspan><tspan dy="-5.8">(deg)</tspan></text>
<text class="b" transform="translate(21.5 196.8) rotate(-90)" font-size="29.5" font-weight="bold" text-anchor="middle" textLength="95.2" lengthAdjust="spacingAndGlyphs"><tspan font-size="32.5" font-weight="normal" stroke-width="1.15" dy="0.8">θ</tspan><tspan font-size="30.7" dy="5.1">1</tspan><tspan dy="-5.9">(deg)</tspan></text>
<text x="239" y="476.4" font-size="44" font-weight="normal" text-anchor="middle">(a)</text>
<rect x="961" y="25.00" width="28" height="7.77" fill="#ff0700"/>
<rect x="961" y="32.17" width="28" height="7.78" fill="#ff1400"/>
<rect x="961" y="39.35" width="28" height="7.77" fill="#ff2100"/>
<rect x="961" y="46.52" width="28" height="7.78" fill="#ff2e00"/>
<rect x="961" y="53.70" width="28" height="7.77" fill="#ff3b00"/>
<rect x="961" y="60.88" width="28" height="7.77" fill="#ff4800"/>
<rect x="961" y="68.05" width="28" height="7.77" fill="#ff5500"/>
<rect x="961" y="75.22" width="28" height="7.78" fill="#ff6800"/>
<rect x="961" y="82.40" width="28" height="7.77" fill="#ff7e00"/>
<rect x="961" y="89.58" width="28" height="7.77" fill="#ff9400"/>
<rect x="961" y="96.75" width="28" height="7.77" fill="#ffaa00"/>
<rect x="961" y="103.92" width="28" height="7.77" fill="#ffc000"/>
<rect x="961" y="111.10" width="28" height="7.77" fill="#ffd500"/>
<rect x="961" y="118.27" width="28" height="7.78" fill="#ffeb00"/>
<rect x="961" y="125.45" width="28" height="7.77" fill="#e2f100"/>
<rect x="961" y="132.62" width="28" height="7.78" fill="#bdf200"/>
<rect x="961" y="139.80" width="28" height="7.77" fill="#97f300"/>
<rect x="961" y="146.97" width="28" height="7.78" fill="#72f400"/>
<rect x="961" y="154.15" width="28" height="7.77" fill="#4df600"/>
<rect x="961" y="161.32" width="28" height="7.78" fill="#28f700"/>
<rect x="961" y="168.50" width="28" height="7.77" fill="#03f800"/>
<rect x="961" y="175.67" width="28" height="7.78" fill="#00f923"/>
<rect x="961" y="182.85" width="28" height="7.78" fill="#00fa48"/>
<rect x="961" y="190.03" width="28" height="7.77" fill="#00fb6d"/>
<rect x="961" y="197.20" width="28" height="7.78" fill="#00fc92"/>
<rect x="961" y="204.38" width="28" height="7.77" fill="#00fdb7"/>
<rect x="961" y="211.55" width="28" height="7.78" fill="#00fedc"/>
<rect x="961" y="218.72" width="28" height="7.78" fill="#00feff"/>
<rect x="961" y="225.90" width="28" height="7.77" fill="#00eaff"/>
<rect x="961" y="233.07" width="28" height="7.78" fill="#00d6ff"/>
<rect x="961" y="240.25" width="28" height="7.77" fill="#00c3ff"/>
<rect x="961" y="247.42" width="28" height="7.78" fill="#00afff"/>
<rect x="961" y="254.60" width="28" height="7.78" fill="#009bff"/>
<rect x="961" y="261.77" width="28" height="7.78" fill="#0087ff"/>
<rect x="961" y="268.95" width="28" height="7.78" fill="#0274ff"/>
<rect x="961" y="276.12" width="28" height="7.78" fill="#0b63ff"/>
<rect x="961" y="283.30" width="28" height="7.77" fill="#1551ff"/>
<rect x="961" y="290.47" width="28" height="7.78" fill="#1e40ff"/>
<rect x="961" y="297.65" width="28" height="7.78" fill="#272eff"/>
<rect x="961" y="304.82" width="28" height="7.78" fill="#311dff"/>
<rect x="961" y="312.00" width="28" height="7.78" fill="#3a0bff"/>
<rect x="961" y="319.18" width="28" height="7.77" fill="#4600ff"/>
<rect x="961" y="326.35" width="28" height="7.78" fill="#5500ff"/>
<rect x="961" y="333.52" width="28" height="7.78" fill="#6400ff"/>
<rect x="961" y="340.70" width="28" height="7.78" fill="#7400ff"/>
<rect x="961" y="347.88" width="28" height="7.78" fill="#8300ff"/>
<rect x="961" y="355.05" width="28" height="7.77" fill="#9300ff"/>
<rect x="961" y="362.22" width="28" height="7.18" fill="#a200ff"/>
<text class="b" x="774.5" y="13.9" font-size="19" font-weight="bold" text-anchor="middle" textLength="199" lengthAdjust="spacingAndGlyphs">Transmssion Amplitude</text>
<text class="b" x="593.4" y="25.4" font-size="16" font-weight="bold" text-anchor="end">135</text>
<text class="b" x="593.4" y="65.7" font-size="16" font-weight="bold" text-anchor="end">130</text>
<text class="b" x="593.4" y="106.1" font-size="16" font-weight="bold" text-anchor="end">125</text>
<text class="b" x="593.4" y="146.4" font-size="16" font-weight="bold" text-anchor="end">120</text>
<text class="b" x="593.4" y="186.8" font-size="16" font-weight="bold" text-anchor="end">115</text>
<text class="b" x="593.4" y="227.1" font-size="16" font-weight="bold" text-anchor="end">110</text>
<text class="b" x="593.4" y="267.5" font-size="16" font-weight="bold" text-anchor="end">105</text>
<text class="b" x="593.4" y="307.8" font-size="16" font-weight="bold" text-anchor="end">100</text>
<text class="b" x="593.4" y="348.1" font-size="16" font-weight="bold" text-anchor="end">95</text>
<text class="b" x="593.4" y="380.5" font-size="16" font-weight="bold" text-anchor="end">91</text>
<text class="b" x="600.5" y="392" font-size="16" font-weight="bold" text-anchor="middle">5</text>
<text class="b" x="651" y="392" font-size="16" font-weight="bold" text-anchor="middle">30</text>
<text class="b" x="701.5" y="392" font-size="16" font-weight="bold" text-anchor="middle">55</text>
<text class="b" x="752" y="392" font-size="16" font-weight="bold" text-anchor="middle">80</text>
<text class="b" x="802.5" y="392" font-size="16" font-weight="bold" text-anchor="middle">105</text>
<text class="b" x="853" y="392" font-size="16" font-weight="bold" text-anchor="middle">130</text>
<text class="b" x="903.5" y="392" font-size="16" font-weight="bold" text-anchor="middle">155</text>
<text class="b" x="954" y="392" font-size="16" font-weight="bold" text-anchor="middle">180</text>
<text class="b" x="995" y="30.5" font-size="14.5" font-weight="bold" text-anchor="start">1.0</text>
<text class="b" x="995" y="64.9" font-size="14.5" font-weight="bold" text-anchor="start">0.9</text>
<text class="b" x="995" y="99.2" font-size="14.5" font-weight="bold" text-anchor="start">0.8</text>
<text class="b" x="995" y="133.6" font-size="14.5" font-weight="bold" text-anchor="start">0.7</text>
<text class="b" x="995" y="167.9" font-size="14.5" font-weight="bold" text-anchor="start">0.6</text>
<text class="b" x="995" y="202.3" font-size="14.5" font-weight="bold" text-anchor="start">0.5</text>
<text class="b" x="995" y="236.6" font-size="14.5" font-weight="bold" text-anchor="start">0.4</text>
<text class="b" x="995" y="271" font-size="14.5" font-weight="bold" text-anchor="start">0.3</text>
<text class="b" x="995" y="305.3" font-size="14.5" font-weight="bold" text-anchor="start">0.2</text>
<text class="b" x="995" y="339.7" font-size="14.5" font-weight="bold" text-anchor="start">0.1</text>
<text class="b" x="995" y="374" font-size="14.5" font-weight="bold" text-anchor="start">0.0</text>
<text class="b" x="774.2" y="423.5" font-size="28.8" font-weight="bold" text-anchor="middle" textLength="92.5" lengthAdjust="spacingAndGlyphs"><tspan font-size="31.7" font-weight="normal" stroke-width="1.15" dy="0.8">θ</tspan><tspan font-size="30" dy="5">2</tspan><tspan dy="-5.8">(deg)</tspan></text>
<text class="b" transform="translate(559.4 198) rotate(-90)" font-size="29.5" font-weight="bold" text-anchor="middle" textLength="96.5" lengthAdjust="spacingAndGlyphs"><tspan font-size="32.5" font-weight="normal" stroke-width="1.15" dy="0.8">θ</tspan><tspan font-size="30.7" dy="5.1">1</tspan><tspan dy="-5.9">(deg)</tspan></text>
<text x="777.5" y="477" font-size="44" font-weight="normal" text-anchor="middle">(b)</text>
<rect x="419.8" y="525.70" width="26.8" height="7.88" fill="#ff0700"/>
<rect x="419.8" y="532.98" width="26.8" height="7.88" fill="#ff1400"/>
<rect x="419.8" y="540.25" width="26.8" height="7.88" fill="#ff2100"/>
<rect x="419.8" y="547.53" width="26.8" height="7.88" fill="#ff2e00"/>
<rect x="419.8" y="554.81" width="26.8" height="7.88" fill="#ff3b00"/>
<rect x="419.8" y="562.09" width="26.8" height="7.88" fill="#ff4800"/>
<rect x="419.8" y="569.36" width="26.8" height="7.88" fill="#ff5500"/>
<rect x="419.8" y="576.64" width="26.8" height="7.88" fill="#ff6800"/>
<rect x="419.8" y="583.92" width="26.8" height="7.88" fill="#ff7e00"/>
<rect x="419.8" y="591.19" width="26.8" height="7.88" fill="#ff9400"/>
<rect x="419.8" y="598.47" width="26.8" height="7.88" fill="#ffaa00"/>
<rect x="419.8" y="605.75" width="26.8" height="7.88" fill="#ffc000"/>
<rect x="419.8" y="613.03" width="26.8" height="7.88" fill="#ffd500"/>
<rect x="419.8" y="620.30" width="26.8" height="7.88" fill="#ffeb00"/>
<rect x="419.8" y="627.58" width="26.8" height="7.88" fill="#e2f100"/>
<rect x="419.8" y="634.86" width="26.8" height="7.88" fill="#bdf200"/>
<rect x="419.8" y="642.13" width="26.8" height="7.88" fill="#97f300"/>
<rect x="419.8" y="649.41" width="26.8" height="7.88" fill="#72f400"/>
<rect x="419.8" y="656.69" width="26.8" height="7.88" fill="#4df600"/>
<rect x="419.8" y="663.96" width="26.8" height="7.88" fill="#28f700"/>
<rect x="419.8" y="671.24" width="26.8" height="7.88" fill="#03f800"/>
<rect x="419.8" y="678.52" width="26.8" height="7.88" fill="#00f923"/>
<rect x="419.8" y="685.80" width="26.8" height="7.88" fill="#00fa48"/>
<rect x="419.8" y="693.07" width="26.8" height="7.88" fill="#00fb6d"/>
<rect x="419.8" y="700.35" width="26.8" height="7.88" fill="#00fc92"/>
<rect x="419.8" y="707.63" width="26.8" height="7.88" fill="#00fdb7"/>
<rect x="419.8" y="714.90" width="26.8" height="7.88" fill="#00fedc"/>
<rect x="419.8" y="722.18" width="26.8" height="7.88" fill="#00feff"/>
<rect x="419.8" y="729.46" width="26.8" height="7.88" fill="#00eaff"/>
<rect x="419.8" y="736.74" width="26.8" height="7.88" fill="#00d6ff"/>
<rect x="419.8" y="744.01" width="26.8" height="7.88" fill="#00c3ff"/>
<rect x="419.8" y="751.29" width="26.8" height="7.88" fill="#00afff"/>
<rect x="419.8" y="758.57" width="26.8" height="7.88" fill="#009bff"/>
<rect x="419.8" y="765.84" width="26.8" height="7.88" fill="#0087ff"/>
<rect x="419.8" y="773.12" width="26.8" height="7.88" fill="#0274ff"/>
<rect x="419.8" y="780.40" width="26.8" height="7.88" fill="#0b63ff"/>
<rect x="419.8" y="787.67" width="26.8" height="7.88" fill="#1551ff"/>
<rect x="419.8" y="794.95" width="26.8" height="7.88" fill="#1e40ff"/>
<rect x="419.8" y="802.23" width="26.8" height="7.88" fill="#272eff"/>
<rect x="419.8" y="809.51" width="26.8" height="7.88" fill="#311dff"/>
<rect x="419.8" y="816.78" width="26.8" height="7.88" fill="#3a0bff"/>
<rect x="419.8" y="824.06" width="26.8" height="7.88" fill="#4600ff"/>
<rect x="419.8" y="831.34" width="26.8" height="7.88" fill="#5500ff"/>
<rect x="419.8" y="838.61" width="26.8" height="7.88" fill="#6400ff"/>
<rect x="419.8" y="845.89" width="26.8" height="7.88" fill="#7400ff"/>
<rect x="419.8" y="853.17" width="26.8" height="7.88" fill="#8300ff"/>
<rect x="419.8" y="860.45" width="26.8" height="7.88" fill="#9300ff"/>
<rect x="419.8" y="867.72" width="26.8" height="7.28" fill="#a200ff"/>
<text class="b" x="234.6" y="513.8" font-size="18.5" font-weight="bold" text-anchor="middle" textLength="152.5" lengthAdjust="spacingAndGlyphs">Phase Distribution</text>
<text class="b" x="56.6" y="525" font-size="16" font-weight="bold" text-anchor="end">45</text>
<text class="b" x="56.6" y="565.9" font-size="16" font-weight="bold" text-anchor="end">40</text>
<text class="b" x="56.6" y="606.9" font-size="16" font-weight="bold" text-anchor="end">35</text>
<text class="b" x="56.6" y="647.8" font-size="16" font-weight="bold" text-anchor="end">30</text>
<text class="b" x="56.6" y="688.8" font-size="16" font-weight="bold" text-anchor="end">25</text>
<text class="b" x="56.6" y="729.7" font-size="16" font-weight="bold" text-anchor="end">20</text>
<text class="b" x="56.6" y="770.6" font-size="16" font-weight="bold" text-anchor="end">15</text>
<text class="b" x="56.6" y="811.6" font-size="16" font-weight="bold" text-anchor="end">10</text>
<text class="b" x="56.6" y="852.5" font-size="16" font-weight="bold" text-anchor="end">5</text>
<text class="b" x="56.6" y="885.3" font-size="16" font-weight="bold" text-anchor="end">1</text>
<text class="b" x="63.5" y="897.8" font-size="16" font-weight="bold" text-anchor="middle">5</text>
<text class="b" x="113.2" y="897.8" font-size="16" font-weight="bold" text-anchor="middle">30</text>
<text class="b" x="162.9" y="897.8" font-size="16" font-weight="bold" text-anchor="middle">55</text>
<text class="b" x="212.6" y="897.8" font-size="16" font-weight="bold" text-anchor="middle">80</text>
<text class="b" x="262.3" y="897.8" font-size="16" font-weight="bold" text-anchor="middle">105</text>
<text class="b" x="312" y="897.8" font-size="16" font-weight="bold" text-anchor="middle">130</text>
<text class="b" x="361.7" y="897.8" font-size="16" font-weight="bold" text-anchor="middle">155</text>
<text class="b" x="411.4" y="897.8" font-size="16" font-weight="bold" text-anchor="middle">180</text>
<text class="b" x="452.5" y="530.9" font-size="14.5" font-weight="bold" text-anchor="start">180</text>
<text class="b" x="452.5" y="589" font-size="14.5" font-weight="bold" text-anchor="start">120</text>
<text class="b" x="452.5" y="647.1" font-size="14.5" font-weight="bold" text-anchor="start">60</text>
<text class="b" x="452.5" y="705.2" font-size="14.5" font-weight="bold" text-anchor="start">0</text>
<text class="b" x="452.5" y="763.3" font-size="14.5" font-weight="bold" text-anchor="start">-60</text>
<text class="b" x="452.5" y="821.4" font-size="14.5" font-weight="bold" text-anchor="start">-120</text>
<text class="b" x="452.5" y="879.5" font-size="14.5" font-weight="bold" text-anchor="start">-180</text>
<text class="b" x="233.5" y="929.1" font-size="28.4" font-weight="bold" text-anchor="middle" textLength="91.3" lengthAdjust="spacingAndGlyphs"><tspan font-size="31.2" font-weight="normal" stroke-width="1.15" dy="0.8">θ</tspan><tspan font-size="29.5" dy="4.9">2</tspan><tspan dy="-5.7">(deg)</tspan></text>
<text class="b" transform="translate(27.8 700.5) rotate(-90)" font-size="29.5" font-weight="bold" text-anchor="middle" textLength="97.7" lengthAdjust="spacingAndGlyphs"><tspan font-size="32.5" font-weight="normal" stroke-width="1.15" dy="0.8">θ</tspan><tspan font-size="30.7" dy="5.1">1</tspan><tspan dy="-5.9">(deg)</tspan></text>
<text x="244.3" y="986.5" font-size="44" font-weight="normal" text-anchor="middle">(c)</text>
<rect x="965.8" y="526.00" width="27.2" height="7.90" fill="#ff0700"/>
<rect x="965.8" y="533.30" width="27.2" height="7.90" fill="#ff1400"/>
<rect x="965.8" y="540.61" width="27.2" height="7.90" fill="#ff2100"/>
<rect x="965.8" y="547.91" width="27.2" height="7.90" fill="#ff2e00"/>
<rect x="965.8" y="555.22" width="27.2" height="7.90" fill="#ff3b00"/>
<rect x="965.8" y="562.52" width="27.2" height="7.90" fill="#ff4800"/>
<rect x="965.8" y="569.83" width="27.2" height="7.90" fill="#ff5500"/>
<rect x="965.8" y="577.13" width="27.2" height="7.90" fill="#ff6800"/>
<rect x="965.8" y="584.43" width="27.2" height="7.90" fill="#ff7e00"/>
<rect x="965.8" y="591.74" width="27.2" height="7.90" fill="#ff9400"/>
<rect x="965.8" y="599.04" width="27.2" height="7.90" fill="#ffaa00"/>
<rect x="965.8" y="606.35" width="27.2" height="7.90" fill="#ffc000"/>
<rect x="965.8" y="613.65" width="27.2" height="7.90" fill="#ffd500"/>
<rect x="965.8" y="620.95" width="27.2" height="7.90" fill="#ffeb00"/>
<rect x="965.8" y="628.26" width="27.2" height="7.90" fill="#e2f100"/>
<rect x="965.8" y="635.56" width="27.2" height="7.90" fill="#bdf200"/>
<rect x="965.8" y="642.87" width="27.2" height="7.90" fill="#97f300"/>
<rect x="965.8" y="650.17" width="27.2" height="7.90" fill="#72f400"/>
<rect x="965.8" y="657.48" width="27.2" height="7.90" fill="#4df600"/>
<rect x="965.8" y="664.78" width="27.2" height="7.90" fill="#28f700"/>
<rect x="965.8" y="672.08" width="27.2" height="7.90" fill="#03f800"/>
<rect x="965.8" y="679.39" width="27.2" height="7.90" fill="#00f923"/>
<rect x="965.8" y="686.69" width="27.2" height="7.90" fill="#00fa48"/>
<rect x="965.8" y="694.00" width="27.2" height="7.90" fill="#00fb6d"/>
<rect x="965.8" y="701.30" width="27.2" height="7.90" fill="#00fc92"/>
<rect x="965.8" y="708.60" width="27.2" height="7.90" fill="#00fdb7"/>
<rect x="965.8" y="715.91" width="27.2" height="7.90" fill="#00fedc"/>
<rect x="965.8" y="723.21" width="27.2" height="7.90" fill="#00feff"/>
<rect x="965.8" y="730.52" width="27.2" height="7.90" fill="#00eaff"/>
<rect x="965.8" y="737.82" width="27.2" height="7.90" fill="#00d6ff"/>
<rect x="965.8" y="745.12" width="27.2" height="7.90" fill="#00c3ff"/>
<rect x="965.8" y="752.43" width="27.2" height="7.90" fill="#00afff"/>
<rect x="965.8" y="759.73" width="27.2" height="7.90" fill="#009bff"/>
<rect x="965.8" y="767.04" width="27.2" height="7.90" fill="#0087ff"/>
<rect x="965.8" y="774.34" width="27.2" height="7.90" fill="#0274ff"/>
<rect x="965.8" y="781.65" width="27.2" height="7.90" fill="#0b63ff"/>
<rect x="965.8" y="788.95" width="27.2" height="7.90" fill="#1551ff"/>
<rect x="965.8" y="796.25" width="27.2" height="7.90" fill="#1e40ff"/>
<rect x="965.8" y="803.56" width="27.2" height="7.90" fill="#272eff"/>
<rect x="965.8" y="810.86" width="27.2" height="7.90" fill="#311dff"/>
<rect x="965.8" y="818.17" width="27.2" height="7.90" fill="#3a0bff"/>
<rect x="965.8" y="825.47" width="27.2" height="7.90" fill="#4600ff"/>
<rect x="965.8" y="832.78" width="27.2" height="7.90" fill="#5500ff"/>
<rect x="965.8" y="840.08" width="27.2" height="7.90" fill="#6400ff"/>
<rect x="965.8" y="847.38" width="27.2" height="7.90" fill="#7400ff"/>
<rect x="965.8" y="854.69" width="27.2" height="7.90" fill="#8300ff"/>
<rect x="965.8" y="861.99" width="27.2" height="7.90" fill="#9300ff"/>
<rect x="965.8" y="869.30" width="27.2" height="7.30" fill="#a200ff"/>
<text class="b" x="778.3" y="513.8" font-size="18.5" font-weight="bold" text-anchor="middle" textLength="153.5" lengthAdjust="spacingAndGlyphs">Phase Distribution</text>
<text class="b" x="600.8" y="523.6" font-size="14.2" font-weight="bold" text-anchor="end">135</text>
<text class="b" x="600.8" y="564.8" font-size="14.2" font-weight="bold" text-anchor="end">130</text>
<text class="b" x="600.8" y="605.9" font-size="14.2" font-weight="bold" text-anchor="end">125</text>
<text class="b" x="600.8" y="647.1" font-size="14.2" font-weight="bold" text-anchor="end">120</text>
<text class="b" x="600.8" y="688.2" font-size="14.2" font-weight="bold" text-anchor="end">115</text>
<text class="b" x="600.8" y="729.4" font-size="14.2" font-weight="bold" text-anchor="end">110</text>
<text class="b" x="600.8" y="770.6" font-size="14.2" font-weight="bold" text-anchor="end">105</text>
<text class="b" x="600.8" y="811.7" font-size="14.2" font-weight="bold" text-anchor="end">100</text>
<text class="b" x="600.8" y="852.9" font-size="14.2" font-weight="bold" text-anchor="end">95</text>
<text class="b" x="600.8" y="885.8" font-size="14.2" font-weight="bold" text-anchor="end">91</text>
<text class="b" x="605.5" y="897.8" font-size="14.2" font-weight="bold" text-anchor="middle">5</text>
<text class="b" x="655.6" y="897.8" font-size="14.2" font-weight="bold" text-anchor="middle">30</text>
<text class="b" x="705.8" y="897.8" font-size="14.2" font-weight="bold" text-anchor="middle">55</text>
<text class="b" x="756" y="897.8" font-size="14.2" font-weight="bold" text-anchor="middle">80</text>
<text class="b" x="806.1" y="897.8" font-size="14.2" font-weight="bold" text-anchor="middle">105</text>
<text class="b" x="856.2" y="897.8" font-size="14.2" font-weight="bold" text-anchor="middle">130</text>
<text class="b" x="906.4" y="897.8" font-size="14.2" font-weight="bold" text-anchor="middle">155</text>
<text class="b" x="956.5" y="897.8" font-size="14.2" font-weight="bold" text-anchor="middle">180</text>
<text class="b" x="999.5" y="531.9" font-size="14.5" font-weight="bold" text-anchor="start">180</text>
<text class="b" x="999.5" y="590.3" font-size="14.5" font-weight="bold" text-anchor="start">120</text>
<text class="b" x="999.5" y="648.7" font-size="14.5" font-weight="bold" text-anchor="start">60</text>
<text class="b" x="999.5" y="707.1" font-size="14.5" font-weight="bold" text-anchor="start">0</text>
<text class="b" x="999.5" y="765.5" font-size="14.5" font-weight="bold" text-anchor="start">-60</text>
<text class="b" x="999.5" y="823.9" font-size="14.5" font-weight="bold" text-anchor="start">-120</text>
<text class="b" x="999.5" y="882.3" font-size="14.5" font-weight="bold" text-anchor="start">-180</text>
<text class="b" x="778" y="928.8" font-size="28.4" font-weight="bold" text-anchor="middle" textLength="91.7" lengthAdjust="spacingAndGlyphs"><tspan font-size="31.2" font-weight="normal" stroke-width="1.15" dy="0.8">θ</tspan><tspan font-size="29.5" dy="4.9">2</tspan><tspan dy="-5.7">(deg)</tspan></text>
<text class="b" transform="translate(567 702.1) rotate(-90)" font-size="29.5" font-weight="bold" text-anchor="middle" textLength="98.2" lengthAdjust="spacingAndGlyphs"><tspan font-size="32.5" font-weight="normal" stroke-width="1.15" dy="0.8">θ</tspan><tspan font-size="30.7" dy="5.1">1</tspan><tspan dy="-5.9">(deg)</tspan></text>
<text x="777" y="986.7" font-size="44" font-weight="normal" text-anchor="middle">(d)</text>
</svg>
</body></html>
